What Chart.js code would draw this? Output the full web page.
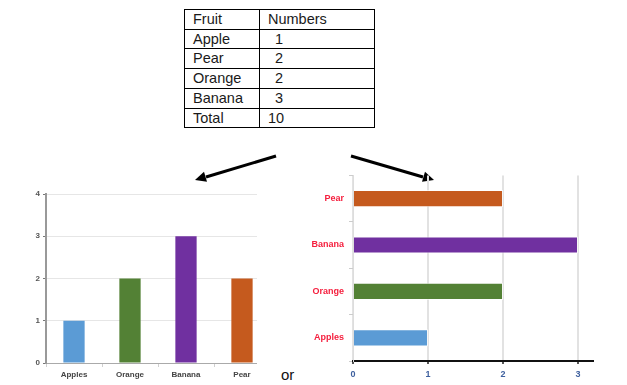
<!DOCTYPE html>
<html>
<head>
<meta charset="utf-8">
<script src="https://cdn.jsdelivr.net/npm/chart.js@4.4.0/dist/chart.umd.min.js"></script>
<style>
  html, body { margin: 0; padding: 0; background: #fff; }
  body { width: 627px; height: 385px; position: relative; overflow: hidden; font-family: "Liberation Sans", Arial, sans-serif; }
  #fruitTable { position: absolute; left: 184px; top: 9px; border-collapse: collapse; table-layout: fixed; width: 190px; font-size: 14.5px; color: #1a1a1a; }
  #fruitTable td { border: 1px solid #000; height: 18.7px; padding: 0 0 0 8px; line-height: 18.7px; box-sizing: content-box; white-space: nowrap; }
  #arrows { position: absolute; left: 0; top: 0; }
  #leftWrap { position: absolute; left: 20px; top: 185px; width: 237px; height: 200px; overflow: hidden; }
  #rightWrap { position: absolute; left: 300px; top: 165px; width: 327px; height: 220px; }
  #orText { position: absolute; left: 281px; top: 366px; font-size: 15px; color: #111; }
</style>
</head>
<body>
<table id="fruitTable">
  <colgroup><col style="width:75px"><col style="width:115px"></colgroup>
  <tbody id="tbody"></tbody>
</table>

<svg id="arrows" width="627" height="385">
  <line x1="276" y1="156" x2="206" y2="177" stroke="#000" stroke-width="3"/>
  <polygon points="195,180 207,181.8 204,171.8" fill="#000"/>
  <line x1="351" y1="156" x2="423" y2="177" stroke="#000" stroke-width="3"/>
  <polygon points="434,180 422,181.8 425,171.8" fill="#000"/>
</svg>

<div id="leftWrap"><canvas id="colChart" width="250" height="200"></canvas></div>
<div id="rightWrap"><canvas id="barChart" width="327" height="220"></canvas></div>
<div id="orText">or</div>

<script>
// table data
const tableHeader = ['Fruit', 'Numbers'];
const tableFruits = ['Apple', 'Pear', 'Orange', 'Banana', 'Total'];
const tableNumbers = [1, 2, 2, 3, 10];

// chart data
const fruits = ['Apples', 'Orange', 'Banana', 'Pear'];
const counts = [1, 2, 3, 2];
const barColors = ['#5b9bd5', '#538135', '#7030a0', '#c55a1e'];

// build the table
const tbody = document.getElementById('tbody');
const addRow = (a, b, pad) => {
  const tr = document.createElement('tr');
  tr.innerHTML = '<td>' + a + '</td><td style="padding-left:' + pad + 'px">' + b + '</td>';
  tbody.appendChild(tr);
};
addRow(tableHeader[0], tableHeader[1], 8);
tableFruits.forEach((f, i) => addRow(f, tableNumbers[i], String(tableNumbers[i]).length > 1 ? 8 : 15));

Chart.defaults.font.family = '"Liberation Sans", Arial, sans-serif';

// left: vertical columns
new Chart(document.getElementById('colChart'), {
  type: 'bar',
  data: {
    labels: fruits,
    datasets: [{ data: counts, backgroundColor: barColors, categoryPercentage: 1, barPercentage: 0.38 }]
  },
  options: {
    responsive: false,
    animation: false,
    layout: { padding: { top: 9, right: 0, left: 0, bottom: 0 } },
    plugins: { legend: { display: false }, tooltip: { enabled: false } },
    scales: {
      x: {
        grid: { drawOnChartArea: false, tickLength: 4, color: '#d0d0d0' },
        border: { color: '#aaa', width: 1 },
        ticks: { color: '#444', padding: 3, font: { family: '"Liberation Sans Narrow", "Liberation Sans", Arial', size: 8, weight: 'bold' } },
        afterFit: (s) => { s.height = 22; }
      },
      y: {
        min: 0, max: 4,
        grid: { color: '#e6e6e6', tickLength: 3, tickColor: '#777' },
        border: { color: '#999', width: 2 },
        ticks: { stepSize: 1, color: '#555', padding: 3, font: { family: '"Liberation Sans Narrow", "Liberation Sans", Arial', size: 8, weight: 'bold' } },
        afterFit: (s) => { s.width = 26; }
      }
    }
  }
});

// right: horizontal bars
new Chart(document.getElementById('barChart'), {
  type: 'bar',
  data: {
    labels: fruits,
    datasets: [{ data: counts, backgroundColor: barColors, borderColor: 'rgba(255,255,255,0.7)', borderWidth: 1, categoryPercentage: 1, barPercentage: 0.37 }]
  },
  options: {
    indexAxis: 'y',
    responsive: false,
    animation: false,
    layout: { padding: { top: 8, right: 34, left: 0, bottom: 0 } },
    plugins: { legend: { display: false }, tooltip: { enabled: false } },
    scales: {
      x: {
        min: 0, max: 3.2,
        grid: { color: '#e2e2e2', lineWidth: 2, tickLength: 3, tickColor: '#555' },
        border: { color: '#111', width: 2 },
        ticks: { stepSize: 1, includeBounds: false, color: '#3d5f9e', padding: 5, font: { size: 9, weight: 'bold' } },
        afterFit: (s) => { s.height = 24; }
      },
      y: {
        reverse: true,
        grid: { drawOnChartArea: false, tickLength: 4, color: '#ccc' },
        border: { color: '#ddd', width: 1 },
        ticks: { color: '#f5203f', padding: 5, font: { size: 9, weight: 'bold' } },
        afterFit: (s) => { s.width = 53; }
      }
    }
  }
});
</script>
</body>
</html>
